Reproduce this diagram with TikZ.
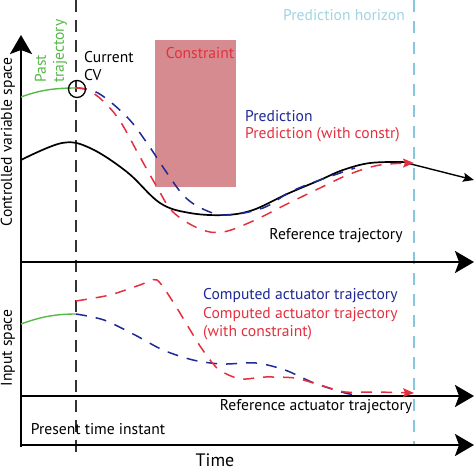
\documentclass[tikz,border=0pt]{standalone}
\usepackage{fontspec}
\setmainfont{PT Sans}
\usetikzlibrary{arrows.meta}
\definecolor{myblue}{RGB}{30,40,150}
\definecolor{myred}{RGB}{228,48,62}
\definecolor{mygreen}{RGB}{85,185,70}
\definecolor{lblue}{RGB}{135,200,222}
\definecolor{ltext}{RGB}{160,212,228}
\definecolor{cfill}{RGB}{213,139,143}
\tikzset{
  axis/.style={line width=2.4pt, -{Stealth[length=19pt,width=22pt,inset=4pt]}},
  refcurve/.style={line width=1.7pt},
  bdash/.style={myblue, line width=1.5pt, dash pattern=on 11pt off 9pt},
  rdash/.style={myred, line width=1.5pt, dash pattern=on 11pt off 9pt},
  smalltip/.style={-{Stealth[length=11pt,width=9pt,inset=2pt]}},
  lbl/.style={inner sep=0pt},
}
\begin{document}
\begin{tikzpicture}[x=1pt,y=-1pt,font=\fontsize{15.6}{18}\selectfont]
\useasboundingbox (0,0) rectangle (474,474);
\clip (0,0) rectangle (474,474);

% constraint box
\fill[cfill] (155,40) rectangle (236,187);
\node[lbl, text=myred] (constr) at (200,53) {Constraint};

% vertical dashed lines
\draw[line width=2pt, black!80, dash pattern=on 12pt off 8pt] (76,0) -- (76,452);
\draw[line width=1.2pt, lblue, dash pattern=on 12pt off 9pt] (414,0) -- (414,445);
\node[lbl, text=ltext] (horizon) at (344,15) {Prediction horizon};

% axes
\coordinate (O) at (21,445);
\draw[axis] (21,447) -- (21,35);
\draw[axis] (20,445) -- (474,445);
\draw[axis] (20,262) -- (474,262);
\draw[axis] (20,396) -- (474,396);

% reference trajectory (top)
\draw[refcurve] plot[smooth, tension=0.6] coordinates {(21,160) (62,143) (90,148) (127,172) (160,203) (190,213) (225,215) (253,210) (287,194) (320,180) (343,170) (370,163) (403,162)};
\draw[line width=1.4pt, -{Stealth[length=11pt,width=9pt,inset=2pt]}] (403,162) -- (474,180);

% past trajectory (top)
\draw[mygreen, line width=1.4pt] (21,97) .. controls (40,90) and (55,88) .. (76,88);

% predictions (top)
\draw[bdash] plot[smooth, tension=0.6] coordinates {(76,88) (98,93) (127,117) (147,143) (167,173) (185,197) (205,210) (227,215) (263,208) (290,192) (320,180) (355,168)};
\draw[rdash, smalltip] plot[smooth, tension=0.6] coordinates {(76,88) (88,90) (103,101) (120,121) (140,157) (157,187) (173,212) (200,229) (223,232) (253,221) (287,204) (320,188) (350,174) (380,165) (414,163)};

% current CV circle
\draw[line width=1.3pt] (77,89) circle (8.5pt);
\node[lbl, align=left, anchor=west] (cv) at (84,66) {Current\\CV};
\node[lbl, align=left, anchor=west, rotate=90, text=mygreen] (past) at (51,83) {Past\\trajectory};

\node[lbl, anchor=west, text=myblue] (pred) at (245,116) {Prediction};
\node[lbl, anchor=west, text=myred] (predc) at (245,135) {Prediction (with constr)};
\node[lbl] (reftraj) at (336,236) {Reference trajectory};

% bottom panel
\draw[mygreen, line width=1.4pt] (21,324) .. controls (40,317) and (55,314) .. (76,314);
\draw[bdash] plot[smooth, tension=0.5] coordinates {(76,314) (104,320) (135,335) (163,350) (193,360) (222,364) (256,363) (285,370) (314,383) (345,393) (352,394)};
\draw[rdash, smalltip] plot[smooth, tension=0.4] coordinates {(76,301) (110,295) (140,285) (157,280) (175,305) (200,346) (218,369) (240,379) (265,377) (295,378) (320,385) (345,392) (375,392) (414,393)};

\node[lbl, anchor=west, text=myblue] (comp) at (203,296) {Computed actuator trajectory};
\node[lbl, anchor=north west, align=left, text=myred] (compc) at (203,307) {Computed actuator trajectory\\(with constraint)};
\node[lbl] (refact) at (316,407) {Reference actuator trajectory};
\node[lbl] (present) at (98,429) {Present time instant};
\node[lbl, font=\fontsize{18}{20}\selectfont] (time) at (215,460) {Time};

% axis labels
\node[lbl, rotate=90] (cvs) at (8,142) {Controlled variable space};
\node[lbl, rotate=90] (ins) at (8,348) {Input space};
\end{tikzpicture}
\end{document}
